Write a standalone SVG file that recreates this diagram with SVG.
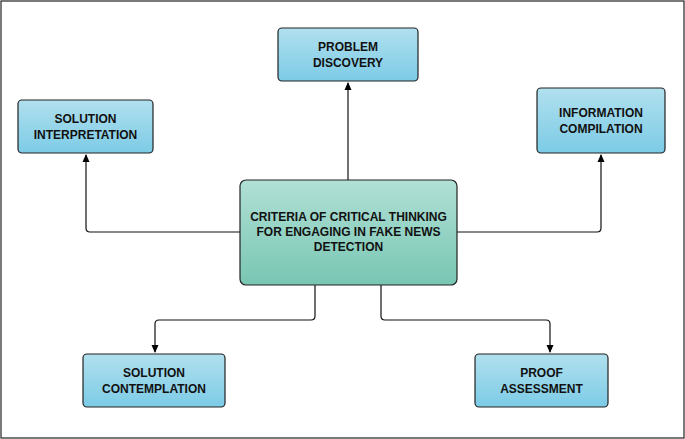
<svg xmlns="http://www.w3.org/2000/svg" width="685" height="439" viewBox="0 0 685 439">
<defs>
<linearGradient id="gb" x1="0" y1="0" x2="0" y2="1"><stop offset="0" stop-color="#b1e0ee"/><stop offset="1" stop-color="#7ccbe6"/></linearGradient>
<linearGradient id="gg" x1="0" y1="0" x2="0" y2="1"><stop offset="0" stop-color="#b1e0d6"/><stop offset="1" stop-color="#78c6b3"/></linearGradient>
<marker id="a" markerWidth="8" markerHeight="8" refX="7" refY="4" orient="auto" markerUnits="userSpaceOnUse"><path d="M0,0.5 L8,4 L0,7.5 Z" fill="#000"/></marker>
<style>
.b{fill:url(#gb);stroke:#222;stroke-width:1.2}
.g{fill:url(#gg);stroke:#222;stroke-width:1.2}
text{font-family:"Liberation Sans",Arial,sans-serif;font-weight:bold;font-size:12px;text-anchor:middle;fill:#111}
.c{fill:none;stroke:#111;stroke-width:1.2}
</style>
</defs>
<rect x="1" y="1" width="683" height="437" fill="#fff" stroke="#222" stroke-width="1.2"/>
<g id="connectors">
<path class="c" d="M348,180 V83" marker-end="url(#a)"/>
<path class="c" d="M240,232 H90 Q86,232 86,228 V155" marker-end="url(#a)"/>
<path class="c" d="M457,232 H597 Q601,232 601,228 V155" marker-end="url(#a)"/>
<path class="c" d="M315,285 V316 Q315,320 311,320 H159 Q155,320 155,324 V352" marker-end="url(#a)"/>
<path class="c" d="M381,285 V316 Q381,320 385,320 H546 Q550,320 550,324 V352" marker-end="url(#a)"/>
</g>
<g id="problem"><rect class="b" x="278" y="28" width="140" height="53" rx="4"/><text x="348" y="51">PROBLEM</text><text x="348" y="67">DISCOVERY</text></g>
<g id="interp"><rect class="b" x="18" y="100" width="135" height="53" rx="4"/><text x="85.5" y="123">SOLUTION</text><text x="85.5" y="139">INTERPRETATION</text></g>
<g id="info"><rect class="b" x="537" y="88" width="128" height="65" rx="4"/><text x="601" y="117">INFORMATION</text><text x="601" y="133">COMPILATION</text></g>
<g id="center"><rect class="g" x="240" y="180" width="217" height="105" rx="6"/><text x="348.5" y="221">CRITERIA OF CRITICAL THINKING</text><text x="348.5" y="236">FOR ENGAGING IN FAKE NEWS</text><text x="348.5" y="251">DETECTION</text></g>
<g id="contemp"><rect class="b" x="83" y="354" width="142" height="53" rx="4"/><text x="154" y="377">SOLUTION</text><text x="154" y="393">CONTEMPLATION</text></g>
<g id="proof"><rect class="b" x="475" y="354" width="133" height="53" rx="4"/><text x="541.5" y="377">PROOF</text><text x="541.5" y="393">ASSESSMENT</text></g>
</svg>
